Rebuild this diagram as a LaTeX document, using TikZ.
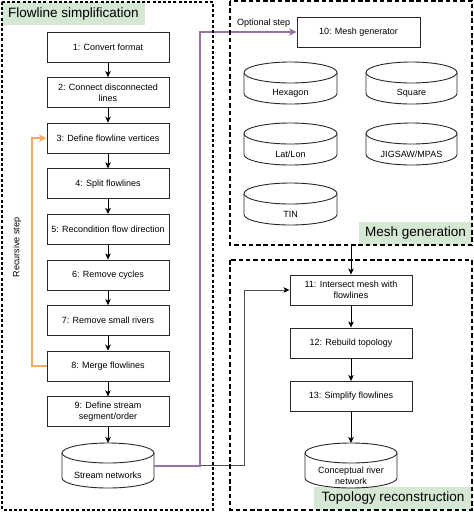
\documentclass[tikz,border=0pt]{standalone}
\usepackage{fontspec}
\setmainfont{Liberation Sans}
\usetikzlibrary{arrows.meta}

\definecolor{tagfill}{RGB}{213,232,212}
\definecolor{loopor}{RGB}{245,172,98}
\definecolor{optpurp}{RGB}{150,115,166}
\definecolor{linegray}{RGB}{80,80,80}
\definecolor{edge}{RGB}{40,40,40}

\tikzset{
  stepbox/.style={draw=edge, line width=0.9pt, minimum width=122pt, minimum height=30pt,
    inner sep=2pt, align=center, font=\fontsize{9}{11}\selectfont},
  cylbody/.style={inner sep=0pt, outer sep=0pt, align=center, font=\fontsize{9}{11}\selectfont},
  cylline/.style={draw=edge, line width=0.9pt},
  arr/.style={draw=black, line width=0.9pt, -{Stealth[length=6pt,width=5.5pt,inset=1.5pt]}},
  looparr/.style={draw=loopor, line width=2pt, -{Stealth[length=7.5pt,width=7.5pt,inset=2pt]}},
  optarr/.style={draw=optpurp, line width=2pt, -{Stealth[length=7.5pt,width=7.5pt,inset=2pt]}},
  grayarr/.style={draw=linegray, line width=1pt, -{Stealth[length=6pt,width=5.5pt,inset=1.5pt,color=black]}},
  heavyframe/.style={draw=black, line width=2.2pt, dash pattern=on 3pt off 2.2pt, inner sep=0pt, outer sep=0pt},
  lightframe/.style={draw=black, line width=1.6pt, dash pattern=on 4.5pt off 2.8pt, inner sep=0pt, outer sep=0pt},
  tag/.style={fill=tagfill, inner xsep=6pt, inner ysep=0pt, minimum height=23pt, font=\fontsize{13.5}{15}\selectfont},
  note/.style={font=\fontsize{9}{11}\selectfont, inner sep=1pt}
}

% cylinder outline around a body node: #1 node, #2 half width, #3 ellipse y radius
\newcommand{\cylout}[3]{%
  \draw[cylline] ([yshift=#3]#1.north west) -- ([yshift=#3]#1.south west)
    arc[start angle=180, end angle=360, x radius=#2, y radius=#3]
    -- ([yshift=#3]#1.north east)
    arc[start angle=0, end angle=180, x radius=#2, y radius=#3] -- cycle;
  \draw[cylline] ([yshift=#3]#1.north west)
    arc[start angle=180, end angle=360, x radius=#2, y radius=#3];}

\begin{document}
\begin{tikzpicture}[x=1pt, y=-1pt]
\useasboundingbox (0,0) rectangle (474,512);

% section frames (outline drawn last)
\node[minimum width=211pt, minimum height=508pt, inner sep=0pt, outer sep=0pt] (fs) at (107.5,256) {};
\node[minimum width=242pt, minimum height=244pt, inner sep=0pt, outer sep=0pt] (mg) at (351,123) {};
\node[minimum width=242pt, minimum height=250pt, inner sep=0pt, outer sep=0pt] (tr) at (351,385) {};

% section titles
\node[tag, anchor=north west] (tfs) at (fs.north west) {Flowline simplification};
\node[tag, anchor=south east] (tmg) at (mg.south east) {Mesh generation};
\node[tag, anchor=south east, inner xsep=7.5pt] (ttr) at (tr.south east) {Topology reconstruction};

% flowline simplification steps
\node[stepbox] (b1) at (108,47)    {1: Convert format};
\node[stepbox] (b2) at (108,92.6)  {2: Connect disconnected\\lines};
\node[stepbox] (b3) at (108,138.2) {3: Define flowline vertices};
\node[stepbox] (b4) at (108,183.8) {4: Split flowlines};
\node[stepbox] (b5) at (108,229.4) {5: Recondition flow direction};
\node[stepbox] (b6) at (108,275)   {6: Remove cycles};
\node[stepbox] (b7) at (108,320.6) {7: Remove small rivers};
\node[stepbox] (b8) at (108,366.2) {8: Merge flowlines};
\node[stepbox] (b9) at (108,411.8) {9: Define stream\\segment/order};

\node[cylbody, minimum width=92pt, minimum height=25pt] (sn) at (108,475.5) {Stream networks};
\cylout{sn}{46pt}{10pt}

\foreach \a/\b in {b1/b2, b2/b3, b3/b4, b4/b5, b5/b6, b6/b7, b7/b8, b8/b9}
  \draw[arr] (\a) -- (\b);
\draw[arr] (b9) -- ([yshift=20pt]sn.north);

% recursive loop
\coordinate (rloop) at (32,0);
\draw[looparr] (b8.west) -- (b8.west -| rloop) |- (b3.west);
\node[note, rotate=90] (rlab) at (17,247.5) {Recursive step};

% mesh generation
\node[stepbox, minimum width=123pt] (b10) at (358.5,32) {10: Mesh generator};
\node[cylbody, minimum width=93pt, minimum height=21pt] (hex) at (290.5,93.5)  {Hexagon};
\node[cylbody, minimum width=91pt, minimum height=21pt] (sq)  at (411.5,93.5)  {Square};
\node[cylbody, minimum width=93pt, minimum height=21pt] (ll)  at (290.5,154.5) {Lat/Lon};
\node[cylbody, minimum width=91pt, minimum height=21pt] (jm)  at (411.5,154.5) {JIGSAW/MPAS};
\node[cylbody, minimum width=93pt, minimum height=21pt] (tin) at (290.5,214.5) {TIN};
\cylout{hex}{46.5pt}{10.5pt}
\cylout{sq}{45.5pt}{10.5pt}
\cylout{ll}{46.5pt}{10.5pt}
\cylout{jm}{45.5pt}{10.5pt}
\cylout{tin}{46.5pt}{10.5pt}

% topology reconstruction
\node[stepbox] (b11) at (351,290)   {11: Intersect mesh with\\flowlines};
\node[stepbox] (b12) at (351,343)   {12: Rebuild topology};
\node[stepbox] (b13) at (351,396.5) {13: Simplify flowlines};
\node[cylbody, minimum width=92pt, minimum height=25pt] (crn) at (351,475.5) {Conceptual river\\network};
\cylout{crn}{46pt}{10pt}

\draw[arr] (b11) -- (b12);
\draw[arr] (b12) -- (b13);
\draw[arr] (b13) -- ([yshift=20pt]crn.north);
\draw[arr] (mg.south -| b11.north) -- (b11.north);

% stream networks feed the intersection, and optionally the mesh generator
\coordinate (gturn) at (244,290);
\coordinate (pturn) at (200,32);
\draw[grayarr] ([yshift=10pt]sn.east) -| (gturn) -- (b11.west);
\draw[optarr] ([yshift=10pt]sn.east) -| (pturn) -- (b10.west);
\node[note, anchor=south west] (olab) at (236,29) {Optional step};

% frame outlines
\draw[heavyframe] (fs.north west) rectangle (fs.south east);
\draw[lightframe] (mg.north west) rectangle (mg.south east);
\draw[lightframe] (tr.north west) rectangle (tr.south east);
\end{tikzpicture}
\end{document}
